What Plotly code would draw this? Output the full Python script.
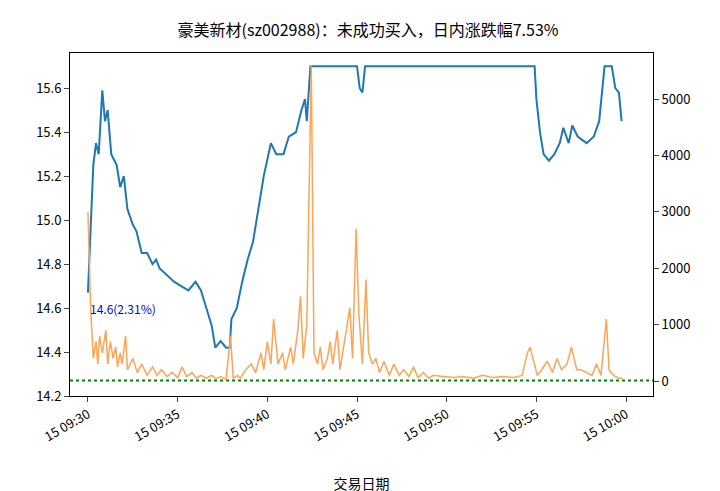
import pandas as pd
import plotly.graph_objects as go

pre_close = 14.27
title = "豪美新材(sz002988)：未成功买入，日内涨跌幅7.53%"

# minutes after 09:30 and price
price_min = [0, 0.15, 0.3, 0.45, 0.6, 0.8, 0.95, 1.1, 1.3, 1.6, 1.8, 2.0, 2.2, 2.5, 2.7, 3.0, 3.3, 3.6, 3.8, 4.0,
             4.4, 4.8, 5.2, 5.6, 6.0, 6.3, 6.6, 6.9, 7.1, 7.4, 7.7, 7.9, 8.0, 8.3, 8.6, 8.9, 9.2, 9.5, 9.8, 10.2,
             10.5, 10.9, 11.2, 11.6, 11.9, 12.1, 12.2, 12.4, 15.0, 15.15, 15.3, 15.45, 24.9, 25.0, 25.2, 25.4,
             25.7, 26.0, 26.3, 26.5, 26.8, 27.0, 27.3, 27.8, 28.2, 28.5, 28.8, 29.2, 29.4, 29.6, 29.75]
price = [14.67, 14.95, 15.25, 15.35, 15.3, 15.59, 15.45, 15.5, 15.3, 15.25, 15.15, 15.2, 15.05, 14.98, 14.95,
         14.85, 14.85, 14.8, 14.82, 14.78, 14.75, 14.72, 14.7, 14.68, 14.72, 14.68, 14.6, 14.52, 14.42, 14.45,
         14.42, 14.42, 14.55, 14.6, 14.72, 14.82, 14.9, 15.05, 15.2, 15.35, 15.3, 15.3, 15.38, 15.4, 15.5, 15.55,
         15.45, 15.7, 15.7, 15.6, 15.58, 15.7, 15.7, 15.55, 15.4, 15.3, 15.27, 15.3, 15.35, 15.42, 15.35, 15.43,
         15.38, 15.35, 15.38, 15.45, 15.7, 15.7, 15.6, 15.58, 15.45]

vol_min = [0, 0.15, 0.3, 0.45, 0.55, 0.65, 0.8, 1.0, 1.1, 1.25, 1.4, 1.55, 1.65, 1.8, 1.9, 2.1, 2.2, 2.5, 2.75,
           3.0, 3.3, 3.6, 3.85, 4.1, 4.4, 4.7, 5.0, 5.25, 5.5, 5.8, 6.05, 6.3, 6.6, 6.9, 7.15, 7.4, 7.7, 7.95, 8.1,
           8.35, 8.5, 8.8, 9.1, 9.35, 9.65, 9.8, 10.0, 10.2, 10.35, 10.6, 10.85, 11.0, 11.3, 11.45, 11.7, 11.85,
           12.0, 12.2, 12.45, 12.6, 12.8, 12.95, 13.1, 13.35, 13.5, 13.65, 13.9, 14.05, 14.2, 14.45, 14.6, 14.75,
           14.95, 15.1, 15.3, 15.5, 15.65, 15.85, 16.05, 16.25, 16.5, 16.8, 17.05, 17.35, 17.6, 17.9, 18.15, 18.4,
           18.7, 19.0, 19.25, 19.8, 20.4, 20.9, 21.5, 22.0, 22.6, 23.1, 23.7, 24.2, 24.5, 24.65, 24.9, 25.05, 25.3,
           25.6, 25.9, 26.15, 26.4, 26.7, 26.95, 27.25, 27.5, 27.8, 28.1, 28.35, 28.6, 28.9, 29.05, 29.3, 29.6, 29.8]
volume = [3000, 1300, 400, 700, 300, 800, 500, 900, 300, 700, 400, 600, 250, 500, 300, 800, 200, 400, 150, 300,
          100, 250, 100, 200, 80, 150, 60, 250, 80, 150, 50, 100, 50, 100, 40, 80, 30, 800, 50, 100, 50, 200, 300,
          150, 500, 200, 700, 300, 1100, 300, 500, 200, 600, 300, 900, 1500, 400, 1000, 5600, 500, 300, 600, 200,
          400, 700, 300, 900, 200, 500, 1000, 1300, 400, 2700, 1200, 300, 1800, 500, 300, 400, 150, 350, 100, 300,
          100, 200, 80, 250, 60, 150, 50, 100, 80, 60, 80, 50, 100, 60, 80, 60, 100, 500, 600, 300, 100, 200, 350,
          150, 400, 200, 300, 600, 200, 200, 150, 100, 300, 100, 1100, 200, 100, 50, 50]

start = pd.Timestamp("2021-01-15 09:30:00")
price_t = [start + pd.Timedelta(minutes=m) for m in price_min]
vol_t = [start + pd.Timedelta(minutes=m) for m in vol_min]

fig = go.Figure()
fig.add_trace(go.Scatter(x=vol_t, y=volume, mode="lines", line=dict(color="#ffa354", width=1.5),
                         yaxis="y2", showlegend=False))
fig.add_trace(go.Scatter(x=price_t, y=price, mode="lines", line=dict(color="#1f77b4", width=2),
                         showlegend=False))
fig.add_trace(go.Scatter(x=[start - pd.Timedelta(minutes=2), start + pd.Timedelta(minutes=32)],
                         y=[pre_close, pre_close], mode="lines",
                         line=dict(color="green", width=2, dash="dot"), showlegend=False))
fig.add_annotation(x=start, y=14.6, text="14.6(2.31%)", showarrow=False, xanchor="left",
                   font=dict(color="blue", size=12))

axis = dict(showline=True, linecolor="black", mirror=True, ticks="outside", showgrid=False,
            automargin=False, tickfont=dict(size=13, color="black"))
fig.update_layout(
    width=720, height=491, plot_bgcolor="white", paper_bgcolor="white",
    margin=dict(l=62, r=75, t=45, b=103),
    font=dict(family="Noto Sans CJK SC", color="black"),
    title=dict(text=title, x=0.5, xanchor="center", y=0.965, font=dict(size=16)),
    xaxis=dict(axis, type="date", range=[start - pd.Timedelta(seconds=60), start + pd.Timedelta(seconds=1890)],
               tickformat="%d %H:%M", dtick=300000, tickangle=-30,
               title=dict(text="交易日期", font=dict(size=14), standoff=35)),
    yaxis=dict(axis, range=[14.2, 15.76], dtick=0.2, tickformat=".1f"),
    yaxis2=dict(axis, overlaying="y", side="right", range=[-266, 5816], dtick=1000, showline=False),
)
fig.write_html("out.html")
